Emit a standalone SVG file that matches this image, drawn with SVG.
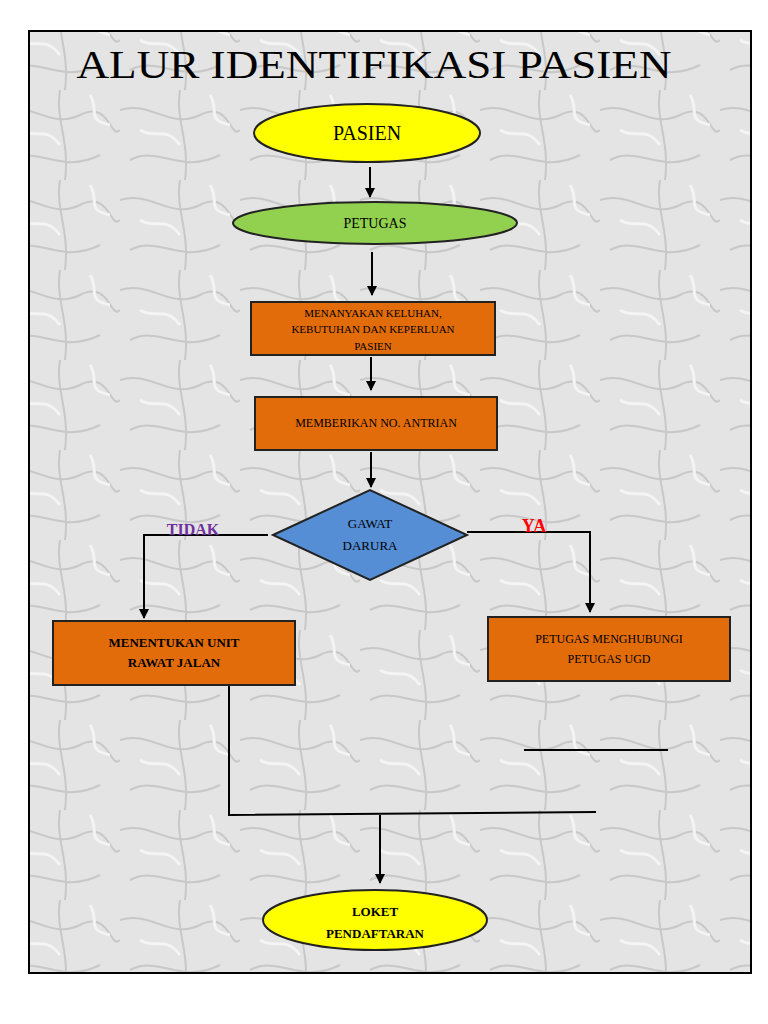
<svg xmlns="http://www.w3.org/2000/svg" width="768" height="1024" viewBox="0 0 768 1024">
<defs>
<marker id="ah" viewBox="0 0 10 10" refX="9" refY="5" markerWidth="5" markerHeight="5" orient="auto"><path d="M0,0L10,5L0,10z" fill="#000"/></marker>
<pattern id="marble" width="120" height="90" patternUnits="userSpaceOnUse">
<rect width="120" height="90" fill="#e4e4e4"/>
<path d="M0,20 C30,10 50,40 80,25 S110,50 120,40 M10,70 C40,55 60,85 100,65 M60,0 C55,30 70,50 65,90" stroke="#c8c8c8" stroke-width="2" fill="none"/>
<path d="M20,40 C35,50 45,35 60,55 M90,5 C100,20 85,30 110,35" stroke="#f4f4f4" stroke-width="3" fill="none"/>
</pattern>
<style>
.t{font-family:"Liberation Serif",serif;fill:#000;text-anchor:middle}
.box{fill:#e36c0a;stroke:#222;stroke-width:2}
.ln{stroke:#000;stroke-width:2;fill:none}
.ar{stroke:#000;stroke-width:2;fill:none;marker-end:url(#ah)}
</style>
</defs>
<rect x="29" y="31" width="722" height="942" fill="url(#marble)" stroke="#000" stroke-width="2"/>
<text class="t" x="374" y="78" font-size="40" textLength="595" lengthAdjust="spacingAndGlyphs">ALUR IDENTIFIKASI PASIEN</text>
<g id="connectors">
<path class="ar" d="M370,167V197"/>
<path class="ar" d="M372,252V295"/>
<path class="ar" d="M371,357V390"/>
<path class="ar" d="M371,452V487"/>
<path class="ar" d="M268,535H144V618"/>
<path class="ar" d="M467,532H590V612"/>
<path class="ln" d="M524,750H668"/>
<path class="ln" d="M229,686V815L596,812"/>
<path class="ar" d="M380,815V883"/>
<text class="t" x="193" y="535" font-size="16" font-weight="bold" style="fill:#7030a0">TIDAK</text>
<text class="t" x="534" y="532" font-size="18" font-weight="bold" style="fill:#ff0000">YA</text>
</g>
<g id="pasien"><ellipse cx="367" cy="133" rx="113" ry="29" fill="#ffff00" stroke="#222" stroke-width="2"/><text class="t" x="367" y="140" font-size="20">PASIEN</text></g>
<g id="petugas"><ellipse cx="375" cy="223" rx="142" ry="21" fill="#92d050" stroke="#222" stroke-width="2"/><text class="t" x="375" y="228" font-size="14">PETUGAS</text></g>
<g id="tanya"><rect class="box" x="251" y="302" width="244" height="53"/><text class="t" font-size="11"><tspan x="373" y="317">MENANYAKAN KELUHAN,</tspan><tspan x="373" y="333">KEBUTUHAN DAN KEPERLUAN</tspan><tspan x="373" y="350">PASIEN</tspan></text></g>
<g id="antrian"><rect class="box" x="255" y="397" width="242" height="53"/><text class="t" x="376" y="427" font-size="12">MEMBERIKAN NO. ANTRIAN</text></g>
<g id="gawat"><polygon points="273,535 370,490 467,535 370,580" fill="#558ed5" stroke="#222" stroke-width="2"/><text class="t" font-size="13"><tspan x="370" y="528">GAWAT</tspan><tspan x="370" y="550">DARURA</tspan></text></g>
<g id="rawat"><rect class="box" x="53" y="621" width="242" height="64"/><text class="t" font-size="13" font-weight="bold"><tspan x="174" y="647">MENENTUKAN UNIT</tspan><tspan x="174" y="667">RAWAT JALAN</tspan></text></g>
<g id="ugd"><rect class="box" x="488" y="617" width="242" height="64"/><text class="t" font-size="12"><tspan x="609" y="643">PETUGAS MENGHUBUNGI</tspan><tspan x="609" y="663">PETUGAS UGD</tspan></text></g>
<g id="loket"><ellipse cx="375" cy="920" rx="112" ry="30" fill="#ffff00" stroke="#222" stroke-width="2"/><text class="t" font-size="13" font-weight="bold"><tspan x="375" y="916">LOKET</tspan><tspan x="375" y="938">PENDAFTARAN</tspan></text></g>
</svg>
